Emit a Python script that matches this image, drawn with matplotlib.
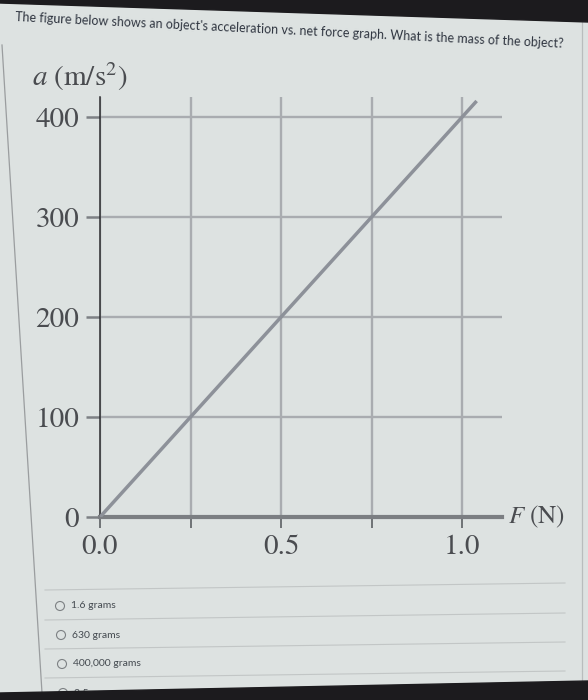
import matplotlib
matplotlib.use("Agg")
import matplotlib.pyplot as plt
from matplotlib.patches import Polygon, Circle

# chart data
force = [0.0, 1.04]
accel = [0.0, 416.0]
x_major = [0.0, 0.5, 1.0]
x_major_labels = ["0.0", "0.5", "1.0"]
x_minor = [0.25, 0.75]
y_ticks = [0, 100, 200, 300, 400]
y_tick_labels = ["0", "100", "200", "300", "400"]

question = ("The figure below shows an object's acceleration vs. net force graph. "
            "What is the mass of the object?")
choices = ["1.6 grams", "630 grams", "400,000 grams", "2.5 grams"]

plt.rcParams["mathtext.fontset"] = "stix"

W, H = 588, 700
bg = "#dde2e1"
fig = plt.figure(figsize=(W / 100, H / 100), dpi=100)
fig.patch.set_facecolor(bg)

# overlay in pixel coords for the page bits of the photo
deco = fig.add_axes([0, 0, 1, 1], zorder=0)
deco.set_xlim(0, W)
deco.set_ylim(H, 0)
deco.axis("off")
deco.set_facecolor(bg)

deco.plot([2, 42], [45, 693], color="#9a9d9f", lw=0.9)
deco.plot([582, 582], [20, 682], color="#b9bdbd", lw=0.9)

deco.text(15, 17, question, family="Lato", fontsize=9, color="#2f3540",
          rotation=-2.8, rotation_mode="anchor", ha="left", va="center")

sep_left = [590, 620, 649, 678]
for i, yl in enumerate(sep_left):
    deco.plot([45, 565], [yl, yl - 7], color="#c2c6c6", lw=0.8)
for i, txt in enumerate(choices):
    cy = 606 + i * 29
    cx = 60 + i
    deco.add_patch(Circle((cx, cy), 4.5, fill=False, ec="#7d8184", lw=0.8))
    deco.text(cx + 11, cy, txt, family="Lato", fontsize=7.5, color="#444a50",
              ha="left", va="center")

# dark photo edges
deco.add_patch(Polygon([[0, 0], [W, 0], [W, 22], [0, 3]], closed=True,
                       color="#1c1b1e", zorder=5))
deco.add_patch(Polygon([[0, 693], [W, 681], [W, H], [0, H]], closed=True,
                       color="#1c1b1e", zorder=5))

# the chart itself
ax = fig.add_axes([100 / W, 1 - 517 / H, 402 / W, 420 / H], zorder=1)
ax.patch.set_alpha(0)
ax.set_xlim(0, 1.11)
ax.set_ylim(0, 420)

ax.plot(force, accel, color="#8d9199", lw=2.5, solid_capstyle="butt", zorder=3)

for s in ["top", "right"]:
    ax.spines[s].set_visible(False)
ax.spines["left"].set_color("#2b2b2e")
ax.spines["left"].set_linewidth(1.1)
ax.spines["bottom"].set_color("#7b7e82")
ax.spines["bottom"].set_linewidth(3)

ax.set_xticks(x_major)
ax.set_xticklabels(x_major_labels)
ax.set_xticks(x_minor, minor=True)
ax.set_yticks(y_ticks)
ax.set_yticklabels(y_tick_labels)

ax.grid(True, which="both", color="#a9acb0", lw=1.7)
ax.set_axisbelow(True)

ax.tick_params(axis="x", which="both", direction="out", length=8, width=1.4,
               color="#6f7276", pad=5)
ax.tick_params(axis="y", direction="out", length=10, width=1.8,
               color="#7d8084", pad=5)
for lab in ax.get_xticklabels() + ax.get_yticklabels():
    lab.set_family("STIXGeneral")
    lab.set_fontsize(21)
    lab.set_color("#4a4c50")

fig.text(32 / W, 1 - 77 / H, r"$a\ (\mathrm{m/s}^2)$", fontsize=21,
         color="#4a4c50", ha="left", va="center", zorder=2)
fig.text(508 / W, 1 - 517 / H, r"$F\ (\mathrm{N})$", fontsize=18,
         color="#4a4c50", ha="left", va="center", zorder=2)

fig.savefig("out.png", dpi=100, facecolor=fig.get_facecolor())
